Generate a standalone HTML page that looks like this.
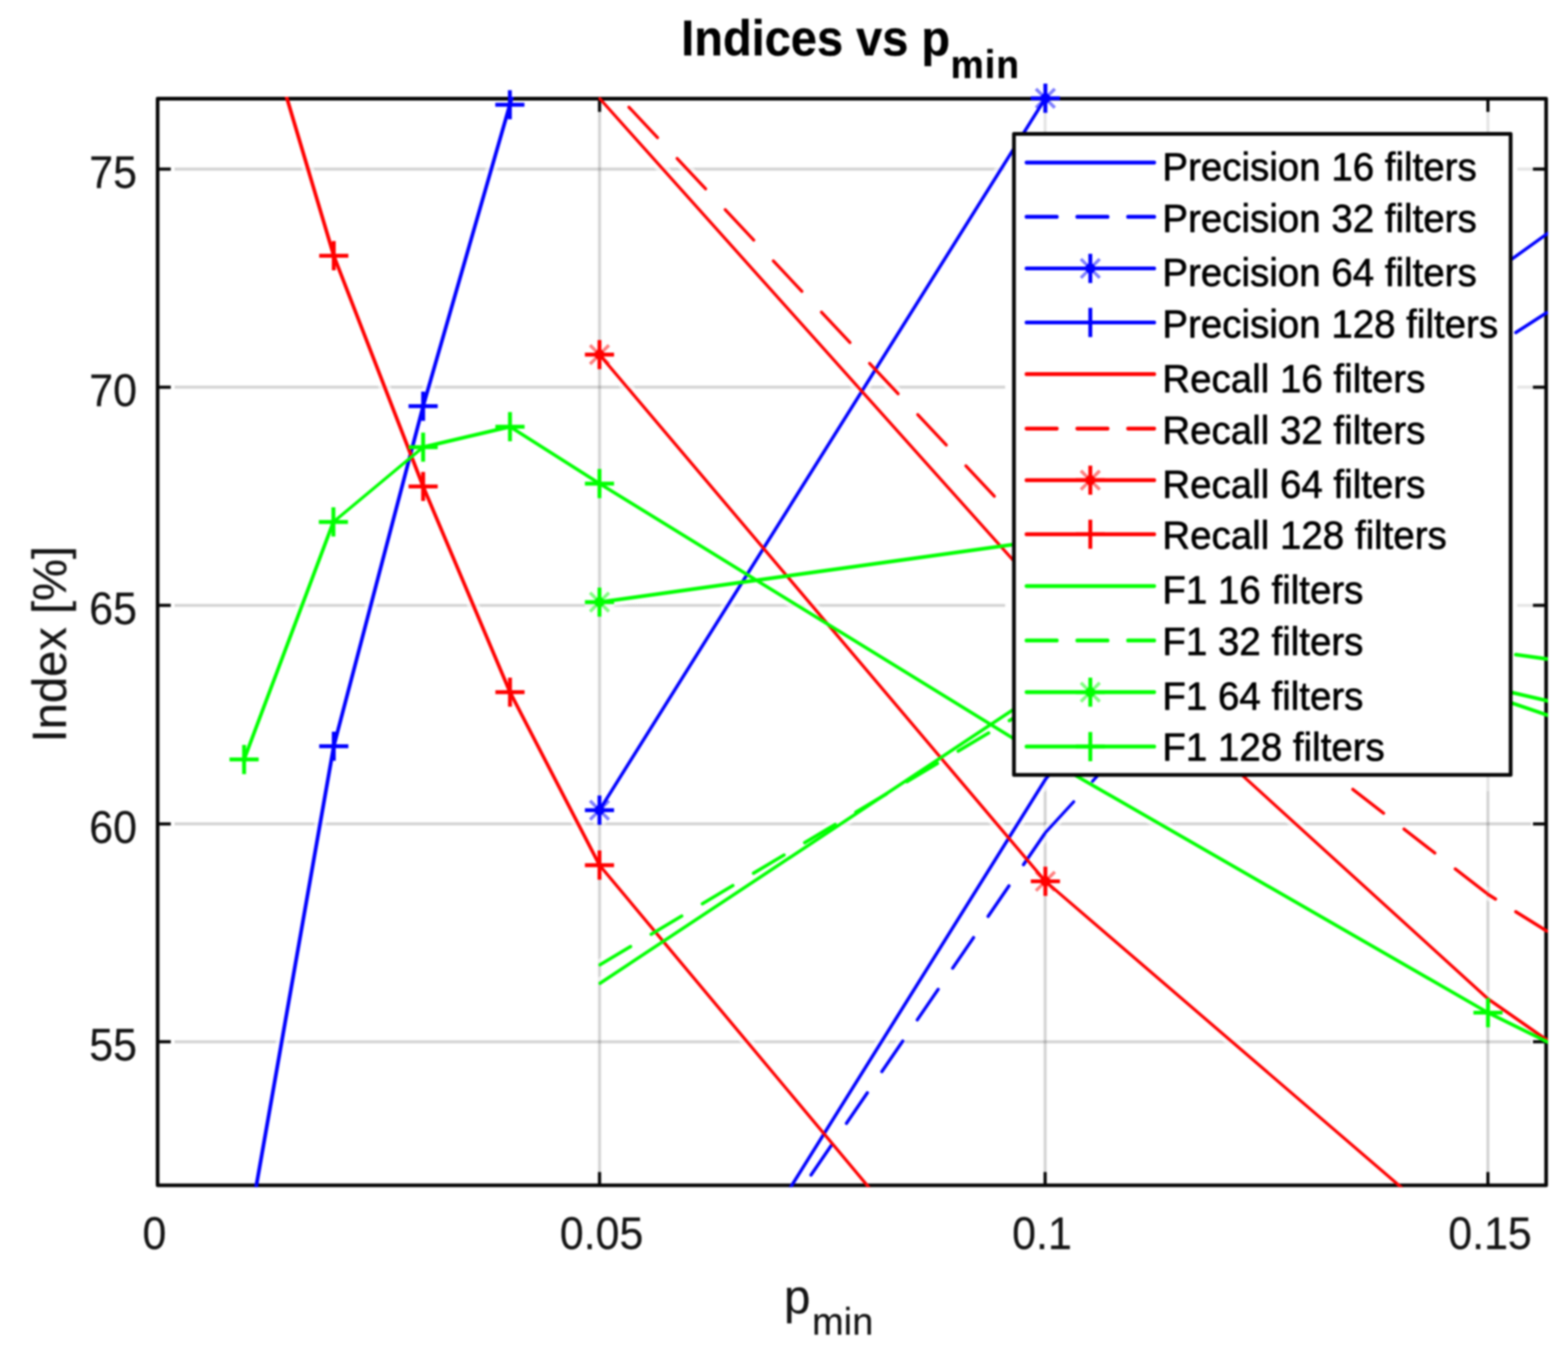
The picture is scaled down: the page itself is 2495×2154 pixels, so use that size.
<!DOCTYPE html>
<html lang="en">
<head>
<meta charset="utf-8">
<title>Indices vs p min</title>
<style>
html,body{margin:0;padding:0;background:#ffffff;}
body{width:2495px;height:2154px;overflow:hidden;}
svg{display:block;}
</style>
</head>
<body>
<svg width="2495" height="2154" viewBox="0 0 2495 2154" font-family="'Liberation Sans', sans-serif">
<defs><clipPath id="ax"><rect x="247.8" y="154.0" width="2215.3999999999996" height="1734.6"/></clipPath><clipPath id="axin"><rect x="274.8" y="181.0" width="2161.3999999999996" height="1680.6"/></clipPath><filter id="soft" color-interpolation-filters="sRGB" x="0" y="0" width="2495" height="2154" filterUnits="userSpaceOnUse"><feGaussianBlur stdDeviation="1.45"/></filter></defs>
<rect width="2495" height="2154" fill="#ffffff"/>
<g filter="url(#soft)">
<line x1="954" y1="157" x2="954" y2="1885.6" stroke="#000000" stroke-opacity="0.170" stroke-width="4.8"/>
<line x1="1663" y1="157" x2="1663" y2="213" stroke="#000000" stroke-opacity="0.102" stroke-width="4.8"/>
<line x1="1663" y1="1232.8" x2="1663" y2="1258.8" stroke="#000000" stroke-opacity="0.102" stroke-width="4.8"/>
<line x1="1663" y1="1258.8" x2="1663" y2="1885.6" stroke="#000000" stroke-opacity="0.170" stroke-width="4.8"/>
<line x1="2367.6" y1="157" x2="2367.6" y2="213" stroke="#000000" stroke-opacity="0.102" stroke-width="4.8"/>
<line x1="2367.6" y1="1232.8" x2="2367.6" y2="1258.8" stroke="#000000" stroke-opacity="0.102" stroke-width="4.8"/>
<line x1="2367.6" y1="1258.8" x2="2367.6" y2="1885.6" stroke="#000000" stroke-opacity="0.170" stroke-width="4.8"/>
<line x1="277.8" y1="269" x2="1599.4" y2="269" stroke="#000000" stroke-opacity="0.170" stroke-width="4.8"/>
<line x1="2414.2" y1="269" x2="2460.2" y2="269" stroke="#000000" stroke-opacity="0.102" stroke-width="4.8"/>
<line x1="277.8" y1="615.9" x2="1599.4" y2="615.9" stroke="#000000" stroke-opacity="0.170" stroke-width="4.8"/>
<line x1="2414.2" y1="615.9" x2="2460.2" y2="615.9" stroke="#000000" stroke-opacity="0.102" stroke-width="4.8"/>
<line x1="277.8" y1="963.1" x2="1599.4" y2="963.1" stroke="#000000" stroke-opacity="0.170" stroke-width="4.8"/>
<line x1="2414.2" y1="963.1" x2="2460.2" y2="963.1" stroke="#000000" stroke-opacity="0.102" stroke-width="4.8"/>
<line x1="277.8" y1="1310.7" x2="2436.2" y2="1310.7" stroke="#000000" stroke-opacity="0.170" stroke-width="4.8"/>
<line x1="277.8" y1="1657.3" x2="2436.2" y2="1657.3" stroke="#000000" stroke-opacity="0.170" stroke-width="4.8"/>
<g clip-path="url(#axin)" stroke="#ffffff" stroke-opacity="0.6" stroke-linecap="butt" fill="none"><path d="M954.5 2374.4L1663.6 1239.7" stroke-width="18.3"/><path d="M1663.6 1239.7L2367.8 439.3" stroke-width="17.9"/><path d="M2367.8 439.3L2460.3 373" stroke-width="18.2"/><path d="M2460.3 373L2560 301.5" stroke-width="18.2"/><path d="M1661.8 1327L1628.6 1375.5" stroke-width="18.2"/><path d="M1605.5 1409.3L1572.3 1457.8" stroke-width="18.2"/><path d="M1549.1 1491.6L1515.9 1540.1" stroke-width="18.2"/><path d="M1492.8 1573.9L1459.6 1622.4" stroke-width="18.2"/><path d="M1436.4 1656.2L1403.2 1704.7" stroke-width="18.2"/><path d="M1380.1 1738.5L1346.9 1787" stroke-width="18.2"/><path d="M1323.7 1820.8L1290.5 1869.3" stroke-width="18.2"/><path d="M1267.4 1903.1L1234.2 1951.6" stroke-width="18.2"/><path d="M1708.6 1275.4L1663.6 1324.4" stroke-width="17.8"/><path d="M1783.4 1193.9L1738.4 1242.9" stroke-width="17.8"/><path d="M1858.2 1112.4L1813.3 1161.4" stroke-width="17.8"/><path d="M1933.1 1030.9L1888.1 1079.9" stroke-width="17.8"/><path d="M2007.9 949.4L1962.9 998.4" stroke-width="17.8"/><path d="M2082.7 867.9L2037.7 916.9" stroke-width="17.8"/><path d="M2157.5 786.4L2112.6 835.4" stroke-width="17.8"/><path d="M2232.4 704.9L2187.4 753.9" stroke-width="17.8"/><path d="M2307.2 623.4L2262.2 672.4" stroke-width="17.8"/><path d="M2367.8 557.4L2337 590.9" stroke-width="17.8"/><path d="M2367.8 557.4L2379.6 549.8" stroke-width="18.3"/><path d="M2412 529L2461 497.6" stroke-width="18.3"/><path d="M2493.5 476.7L2542.5 445.2" stroke-width="18.3"/><path d="M953.9 1288.8L1663.4 156.3" stroke-width="18.3"/><path d="M1663.4 156.3L2367.8 -400" stroke-width="18.0"/><path d="M391.6 1978.7L531.1 1187.1" stroke-width="18.9"/><path d="M531.1 1187.1L673.3 646.2" stroke-width="18.9"/><path d="M673.3 646.2L811.3 166.6" stroke-width="18.8"/><path d="M811.3 166.6L954 -320" stroke-width="18.8"/><path d="M954.5 157L1663.6 948.7" stroke-width="17.9"/><path d="M1663.6 948.7L2367.8 1589.1" stroke-width="17.8"/><path d="M2367.8 1589.1L2460.3 1653.7" stroke-width="18.2"/><path d="M2460.3 1653.7L2560 1723.3" stroke-width="18.2"/><path d="M954.5 121.3L969.7 137.5" stroke-width="17.8"/><path d="M1000.7 170.5L1046.3 219" stroke-width="17.8"/><path d="M1077.3 252L1122.9 300.5" stroke-width="17.8"/><path d="M1153.9 333.5L1199.4 382" stroke-width="17.8"/><path d="M1230.5 415L1276 463.5" stroke-width="17.8"/><path d="M1307 496.5L1352.6 545" stroke-width="17.8"/><path d="M1383.6 578L1429.2 626.5" stroke-width="17.8"/><path d="M1460.2 659.5L1505.8 708" stroke-width="17.8"/><path d="M1536.8 741L1582.3 789.5" stroke-width="17.8"/><path d="M1613.3 822.5L1658.9 871" stroke-width="17.8"/><path d="M1663.6 876L1712.6 914" stroke-width="18.1"/><path d="M1745.1 939.3L1794.1 977.3" stroke-width="18.1"/><path d="M1826.6 1002.6L1875.6 1040.6" stroke-width="18.1"/><path d="M1908.1 1065.9L1957.1 1103.9" stroke-width="18.1"/><path d="M1989.6 1129.1L2038.6 1167.2" stroke-width="18.1"/><path d="M2071.1 1192.4L2120.1 1230.5" stroke-width="18.1"/><path d="M2152.6 1255.7L2201.6 1293.7" stroke-width="18.1"/><path d="M2234.1 1319L2283.1 1357" stroke-width="18.1"/><path d="M2315.6 1382.3L2364.6 1420.3" stroke-width="18.1"/><path d="M2367.8 1422.8L2379.6 1430.2" stroke-width="18.3"/><path d="M2412 1450.5L2461 1481.1" stroke-width="18.3"/><path d="M2493.5 1501.5L2542.5 1532.2" stroke-width="18.3"/><path d="M953.9 564.1L1663.4 1402" stroke-width="17.9"/><path d="M1663.4 1402L2367.8 2007.6" stroke-width="17.9"/><path d="M391.6 -62.2L531.1 406.8" stroke-width="18.8"/><path d="M531.1 406.8L673.3 773.9" stroke-width="18.7"/><path d="M673.3 773.9L811.5 1101.1" stroke-width="18.6"/><path d="M811.5 1101.1L953.9 1376.3" stroke-width="18.5"/><path d="M953.9 1376.3L1663.7 2225.2" stroke-width="18.0"/><path d="M954.8 1564.2L1663.6 1094.9" stroke-width="18.3"/><path d="M1663.6 1094.9L2367.8 1105.5" stroke-width="19.0"/><path d="M2367.8 1105.5L2460.3 1137" stroke-width="18.8"/><path d="M2460.3 1137L2560 1171" stroke-width="18.8"/><path d="M954.8 1534.8L1003.3 1505.9" stroke-width="18.4"/><path d="M1036.2 1486.2L1084.7 1457.3" stroke-width="18.4"/><path d="M1117.6 1437.7L1166.1 1408.8" stroke-width="18.4"/><path d="M1199 1389.1L1247.5 1360.2" stroke-width="18.4"/><path d="M1280.4 1340.6L1328.9 1311.6" stroke-width="18.4"/><path d="M1361.8 1292L1410.3 1263.1" stroke-width="18.4"/><path d="M1443.2 1243.5L1491.7 1214.5" stroke-width="18.4"/><path d="M1524.6 1194.9L1573.1 1166" stroke-width="18.4"/><path d="M1606 1146.4L1654.5 1117.4" stroke-width="18.4"/><path d="M1663.6 1112L1712.6 1106.7" stroke-width="19.0"/><path d="M1745.1 1103.1L1794.1 1097.8" stroke-width="19.0"/><path d="M1826.6 1094.2L1875.6 1088.9" stroke-width="19.0"/><path d="M1908.1 1085.4L1957.1 1080" stroke-width="19.0"/><path d="M1989.6 1076.5L2038.6 1071.2" stroke-width="19.0"/><path d="M2071.1 1067.6L2120.1 1062.3" stroke-width="19.0"/><path d="M2152.6 1058.7L2201.6 1053.4" stroke-width="19.0"/><path d="M2234.1 1049.9L2283.1 1044.5" stroke-width="19.0"/><path d="M2315.6 1041L2364.6 1035.6" stroke-width="19.0"/><path d="M2367.8 1035.3L2379.6 1036.9" stroke-width="19.0"/><path d="M2412 1041.4L2461 1048.2" stroke-width="19.0"/><path d="M2493.5 1052.7L2542.5 1059.5" stroke-width="19.0"/><path d="M953.9 957.9L1663.6 859.1" stroke-width="19.0"/><path d="M1663.6 859.1L2367.8 1092.8" stroke-width="18.8"/><path d="M2367.8 1092.8L2460.3 1114.4" stroke-width="18.9"/><path d="M2460.3 1114.4L2560 1137.7" stroke-width="18.9"/><path d="M388.4 1208.2L530.5 830.3" stroke-width="18.7"/><path d="M530.5 830.3L673.3 711.4" stroke-width="18.0"/><path d="M673.3 711.4L811.5 678.8" stroke-width="18.9"/><path d="M811.5 678.8L953.9 769.3" stroke-width="18.3"/><path d="M953.9 769.3L1663.6 1206.2" stroke-width="18.3"/><path d="M1663.6 1206.2L2367.7 1611" stroke-width="18.4"/><path d="M2367.7 1611L2460.3 1656.6" stroke-width="18.5"/><path d="M2460.3 1656.6L2560 1705.7" stroke-width="18.5"/><path d="M930.7 1288.8H977.1M953.9 1265.6V1312" stroke-width="19.2"/><path d="M1640.2 156.3H1686.6M1663.4 133.1V179.5" stroke-width="19.2"/><path d="M507.9 1187.1H554.3M531.1 1163.9V1210.3" stroke-width="19.2"/><path d="M650.1 646.2H696.5M673.3 623V669.4" stroke-width="19.2"/><path d="M788.1 166.6H834.5M811.3 143.4V189.8" stroke-width="19.2"/><path d="M930.7 564.1H977.1M953.9 540.9V587.3" stroke-width="19.2"/><path d="M1640.2 1402H1686.6M1663.4 1378.8V1425.2" stroke-width="19.2"/><path d="M507.9 406.8H554.3M531.1 383.6V430" stroke-width="19.2"/><path d="M650.1 773.9H696.5M673.3 750.7V797.1" stroke-width="19.2"/><path d="M788.3 1101.1H834.7M811.5 1077.9V1124.3" stroke-width="19.2"/><path d="M930.7 1376.3H977.1M953.9 1353.1V1399.5" stroke-width="19.2"/><path d="M930.7 957.9H977.1M953.9 934.7V981.1" stroke-width="19.2"/><path d="M365.2 1208.2H411.6M388.4 1185V1231.4" stroke-width="19.2"/><path d="M507.3 830.3H553.7M530.5 807.1V853.5" stroke-width="19.2"/><path d="M650.1 711.4H696.5M673.3 688.2V734.6" stroke-width="19.2"/><path d="M788.3 678.8H834.7M811.5 655.6V702" stroke-width="19.2"/><path d="M930.7 769.3H977.1M953.9 746.1V792.5" stroke-width="19.2"/><path d="M2344.5 1611H2390.9M2367.7 1587.8V1634.2" stroke-width="19.2"/></g>
<rect x="250.8" y="157.0" width="2209.3999999999996" height="1728.6" fill="none" stroke="#050505" stroke-width="5.8" stroke-linejoin="round"/>
<path d="M954.0 1885.6v-21M954.0 157.0v21" stroke="#050505" stroke-width="5.0"/>
<path d="M1663.0 1885.6v-21M1663.0 157.0v21" stroke="#050505" stroke-width="5.0"/>
<path d="M2367.6 1885.6v-21M2367.6 157.0v21" stroke="#050505" stroke-width="5.0"/>
<path d="M250.8 269.0h21M2460.2 269.0h-21" stroke="#050505" stroke-width="5.0"/>
<path d="M250.8 615.9h21M2460.2 615.9h-21" stroke="#050505" stroke-width="5.0"/>
<path d="M250.8 963.1h21M2460.2 963.1h-21" stroke="#050505" stroke-width="5.0"/>
<path d="M250.8 1310.7h21M2460.2 1310.7h-21" stroke="#050505" stroke-width="5.0"/>
<path d="M250.8 1657.3h21M2460.2 1657.3h-21" stroke="#050505" stroke-width="5.0"/>
<g clip-path="url(#ax)" stroke-linecap="round" fill="none">
<path d="M954.5 2374.4L1663.6 1239.7" stroke="#0000ff" stroke-width="5.32"/>
<path d="M1663.6 1239.7L2367.8 439.3" stroke="#0000ff" stroke-width="4.88"/>
<path d="M2367.8 439.3L2460.3 373" stroke="#0000ff" stroke-width="5.16"/>
<path d="M2460.3 373L2560 301.5" stroke="#0000ff" stroke-width="5.16"/>
<path d="M1661.8 1327L1628.6 1375.5" stroke="#0000ff" stroke-width="5.21"/>
<path d="M1605.5 1409.3L1572.3 1457.8" stroke="#0000ff" stroke-width="5.21"/>
<path d="M1549.1 1491.6L1515.9 1540.1" stroke="#0000ff" stroke-width="5.21"/>
<path d="M1492.8 1573.9L1459.6 1622.4" stroke="#0000ff" stroke-width="5.21"/>
<path d="M1436.4 1656.2L1403.2 1704.7" stroke="#0000ff" stroke-width="5.21"/>
<path d="M1380.1 1738.5L1346.9 1787" stroke="#0000ff" stroke-width="5.21"/>
<path d="M1323.7 1820.8L1290.5 1869.3" stroke="#0000ff" stroke-width="5.21"/>
<path d="M1267.4 1903.1L1234.2 1951.6" stroke="#0000ff" stroke-width="5.21"/>
<path d="M1708.6 1275.4L1663.6 1324.4" stroke="#0000ff" stroke-width="4.81"/>
<path d="M1783.4 1193.9L1738.4 1242.9" stroke="#0000ff" stroke-width="4.81"/>
<path d="M1858.2 1112.4L1813.3 1161.4" stroke="#0000ff" stroke-width="4.81"/>
<path d="M1933.1 1030.9L1888.1 1079.9" stroke="#0000ff" stroke-width="4.81"/>
<path d="M2007.9 949.4L1962.9 998.4" stroke="#0000ff" stroke-width="4.81"/>
<path d="M2082.7 867.9L2037.7 916.9" stroke="#0000ff" stroke-width="4.81"/>
<path d="M2157.5 786.4L2112.6 835.4" stroke="#0000ff" stroke-width="4.81"/>
<path d="M2232.4 704.9L2187.4 753.9" stroke="#0000ff" stroke-width="4.81"/>
<path d="M2307.2 623.4L2262.2 672.4" stroke="#0000ff" stroke-width="4.81"/>
<path d="M2367.8 557.4L2337 590.9" stroke="#0000ff" stroke-width="4.81"/>
<path d="M2367.8 557.4L2379.6 549.8" stroke="#0000ff" stroke-width="5.29"/>
<path d="M2412 529L2461 497.6" stroke="#0000ff" stroke-width="5.29"/>
<path d="M2493.5 476.7L2542.5 445.2" stroke="#0000ff" stroke-width="5.29"/>
<path d="M953.9 1288.8L1663.4 156.3" stroke="#0000ff" stroke-width="5.31"/>
<path d="M1663.4 156.3L2367.8 -400" stroke="#0000ff" stroke-width="5.03"/>
<path d="M391.6 1978.7L531.1 1187.1" stroke="#0000ff" stroke-width="5.93"/>
<path d="M531.1 1187.1L673.3 646.2" stroke="#0000ff" stroke-width="5.85"/>
<path d="M673.3 646.2L811.3 166.6" stroke="#0000ff" stroke-width="5.82"/>
<path d="M811.3 166.6L954 -320" stroke="#0000ff" stroke-width="5.82"/>
<path d="M954.5 157L1663.6 948.7" stroke="#ff0000" stroke-width="4.85"/>
<path d="M1663.6 948.7L2367.8 1589.1" stroke="#ff0000" stroke-width="4.83"/>
<path d="M2367.8 1589.1L2460.3 1653.7" stroke="#ff0000" stroke-width="5.19"/>
<path d="M2460.3 1653.7L2560 1723.3" stroke="#ff0000" stroke-width="5.19"/>
<path d="M954.5 121.3L969.7 137.5" stroke="#ff0000" stroke-width="4.78"/>
<path d="M1000.7 170.5L1046.3 219" stroke="#ff0000" stroke-width="4.78"/>
<path d="M1077.3 252L1122.9 300.5" stroke="#ff0000" stroke-width="4.78"/>
<path d="M1153.9 333.5L1199.4 382" stroke="#ff0000" stroke-width="4.78"/>
<path d="M1230.5 415L1276 463.5" stroke="#ff0000" stroke-width="4.78"/>
<path d="M1307 496.5L1352.6 545" stroke="#ff0000" stroke-width="4.78"/>
<path d="M1383.6 578L1429.2 626.5" stroke="#ff0000" stroke-width="4.78"/>
<path d="M1460.2 659.5L1505.8 708" stroke="#ff0000" stroke-width="4.78"/>
<path d="M1536.8 741L1582.3 789.5" stroke="#ff0000" stroke-width="4.78"/>
<path d="M1613.3 822.5L1658.9 871" stroke="#ff0000" stroke-width="4.78"/>
<path d="M1663.6 876L1712.6 914" stroke="#ff0000" stroke-width="5.05"/>
<path d="M1745.1 939.3L1794.1 977.3" stroke="#ff0000" stroke-width="5.05"/>
<path d="M1826.6 1002.6L1875.6 1040.6" stroke="#ff0000" stroke-width="5.05"/>
<path d="M1908.1 1065.9L1957.1 1103.9" stroke="#ff0000" stroke-width="5.05"/>
<path d="M1989.6 1129.1L2038.6 1167.2" stroke="#ff0000" stroke-width="5.05"/>
<path d="M2071.1 1192.4L2120.1 1230.5" stroke="#ff0000" stroke-width="5.05"/>
<path d="M2152.6 1255.7L2201.6 1293.7" stroke="#ff0000" stroke-width="5.05"/>
<path d="M2234.1 1319L2283.1 1357" stroke="#ff0000" stroke-width="5.05"/>
<path d="M2315.6 1382.3L2364.6 1420.3" stroke="#ff0000" stroke-width="5.05"/>
<path d="M2367.8 1422.8L2379.6 1430.2" stroke="#ff0000" stroke-width="5.31"/>
<path d="M2412 1450.5L2461 1481.1" stroke="#ff0000" stroke-width="5.31"/>
<path d="M2493.5 1501.5L2542.5 1532.2" stroke="#ff0000" stroke-width="5.31"/>
<path d="M953.9 564.1L1663.4 1402" stroke="#ff0000" stroke-width="4.93"/>
<path d="M1663.4 1402L2367.8 2007.6" stroke="#ff0000" stroke-width="4.91"/>
<path d="M391.6 -62.2L531.1 406.8" stroke="#ff0000" stroke-width="5.81"/>
<path d="M531.1 406.8L673.3 773.9" stroke="#ff0000" stroke-width="5.70"/>
<path d="M673.3 773.9L811.5 1101.1" stroke="#ff0000" stroke-width="5.65"/>
<path d="M811.5 1101.1L953.9 1376.3" stroke="#ff0000" stroke-width="5.50"/>
<path d="M953.9 1376.3L1663.7 2225.2" stroke="#ff0000" stroke-width="4.95"/>
<path d="M954.8 1564.2L1663.6 1094.9" stroke="#00ff00" stroke-width="5.25"/>
<path d="M1663.6 1094.9L2367.8 1105.5" stroke="#00ff00" stroke-width="6.00"/>
<path d="M2367.8 1105.5L2460.3 1137" stroke="#00ff00" stroke-width="5.76"/>
<path d="M2460.3 1137L2560 1171" stroke="#00ff00" stroke-width="5.76"/>
<path d="M954.8 1534.8L1003.3 1505.9" stroke="#00ff00" stroke-width="5.36"/>
<path d="M1036.2 1486.2L1084.7 1457.3" stroke="#00ff00" stroke-width="5.36"/>
<path d="M1117.6 1437.7L1166.1 1408.8" stroke="#00ff00" stroke-width="5.36"/>
<path d="M1199 1389.1L1247.5 1360.2" stroke="#00ff00" stroke-width="5.36"/>
<path d="M1280.4 1340.6L1328.9 1311.6" stroke="#00ff00" stroke-width="5.36"/>
<path d="M1361.8 1292L1410.3 1263.1" stroke="#00ff00" stroke-width="5.36"/>
<path d="M1443.2 1243.5L1491.7 1214.5" stroke="#00ff00" stroke-width="5.36"/>
<path d="M1524.6 1194.9L1573.1 1166" stroke="#00ff00" stroke-width="5.36"/>
<path d="M1606 1146.4L1654.5 1117.4" stroke="#00ff00" stroke-width="5.36"/>
<path d="M1663.6 1112L1712.6 1106.7" stroke="#00ff00" stroke-width="5.97"/>
<path d="M1745.1 1103.1L1794.1 1097.8" stroke="#00ff00" stroke-width="5.97"/>
<path d="M1826.6 1094.2L1875.6 1088.9" stroke="#00ff00" stroke-width="5.97"/>
<path d="M1908.1 1085.4L1957.1 1080" stroke="#00ff00" stroke-width="5.97"/>
<path d="M1989.6 1076.5L2038.6 1071.2" stroke="#00ff00" stroke-width="5.97"/>
<path d="M2071.1 1067.6L2120.1 1062.3" stroke="#00ff00" stroke-width="5.97"/>
<path d="M2152.6 1058.7L2201.6 1053.4" stroke="#00ff00" stroke-width="5.97"/>
<path d="M2234.1 1049.9L2283.1 1044.5" stroke="#00ff00" stroke-width="5.97"/>
<path d="M2315.6 1041L2364.6 1035.6" stroke="#00ff00" stroke-width="5.97"/>
<path d="M2367.8 1035.3L2379.6 1036.9" stroke="#00ff00" stroke-width="5.96"/>
<path d="M2412 1041.4L2461 1048.2" stroke="#00ff00" stroke-width="5.96"/>
<path d="M2493.5 1052.7L2542.5 1059.5" stroke="#00ff00" stroke-width="5.96"/>
<path d="M953.9 957.9L1663.6 859.1" stroke="#00ff00" stroke-width="5.96"/>
<path d="M1663.6 859.1L2367.8 1092.8" stroke="#00ff00" stroke-width="5.77"/>
<path d="M2367.8 1092.8L2460.3 1114.4" stroke="#00ff00" stroke-width="5.88"/>
<path d="M2460.3 1114.4L2560 1137.7" stroke="#00ff00" stroke-width="5.88"/>
<path d="M388.4 1208.2L530.5 830.3" stroke="#00ff00" stroke-width="5.71"/>
<path d="M530.5 830.3L673.3 711.4" stroke="#00ff00" stroke-width="4.96"/>
<path d="M673.3 711.4L811.5 678.8" stroke="#00ff00" stroke-width="5.88"/>
<path d="M811.5 678.8L953.9 769.3" stroke="#00ff00" stroke-width="5.30"/>
<path d="M953.9 769.3L1663.6 1206.2" stroke="#00ff00" stroke-width="5.33"/>
<path d="M1663.6 1206.2L2367.7 1611" stroke="#00ff00" stroke-width="5.40"/>
<path d="M2367.7 1611L2460.3 1656.6" stroke="#00ff00" stroke-width="5.54"/>
<path d="M2460.3 1656.6L2560 1705.7" stroke="#00ff00" stroke-width="5.54"/>
</g>
<path d="M930.7 1288.8H977.1M953.9 1265.6V1312" stroke="#0000ff" stroke-width="6.2" fill="none"/>
<path d="M938.9 1273.8L968.9 1303.8M938.9 1303.8L968.9 1273.8" stroke="#0000ff" stroke-width="5.3" stroke-opacity="0.5" fill="none"/>
<circle cx="953.9" cy="1288.8" r="8" fill="#0000ff"/>
<path d="M1640.2 156.3H1686.6M1663.4 133.1V179.5" stroke="#0000ff" stroke-width="6.2" fill="none"/>
<path d="M1648.4 141.3L1678.4 171.3M1648.4 171.3L1678.4 141.3" stroke="#0000ff" stroke-width="5.3" stroke-opacity="0.5" fill="none"/>
<circle cx="1663.4" cy="156.3" r="8" fill="#0000ff"/>
<path d="M507.9 1187.1H554.3M531.1 1163.9V1210.3" stroke="#0000ff" stroke-width="6.2" fill="none"/>
<path d="M650.1 646.2H696.5M673.3 623V669.4" stroke="#0000ff" stroke-width="6.2" fill="none"/>
<path d="M788.1 166.6H834.5M811.3 143.4V189.8" stroke="#0000ff" stroke-width="6.2" fill="none"/>
<path d="M930.7 564.1H977.1M953.9 540.9V587.3" stroke="#ff0000" stroke-width="6.2" fill="none"/>
<path d="M938.9 549.1L968.9 579.1M938.9 579.1L968.9 549.1" stroke="#ff0000" stroke-width="5.3" stroke-opacity="0.5" fill="none"/>
<circle cx="953.9" cy="564.1" r="8" fill="#ff0000"/>
<path d="M1640.2 1402H1686.6M1663.4 1378.8V1425.2" stroke="#ff0000" stroke-width="6.2" fill="none"/>
<path d="M1648.4 1387L1678.4 1417M1648.4 1417L1678.4 1387" stroke="#ff0000" stroke-width="5.3" stroke-opacity="0.5" fill="none"/>
<circle cx="1663.4" cy="1402" r="8" fill="#ff0000"/>
<path d="M507.9 406.8H554.3M531.1 383.6V430" stroke="#ff0000" stroke-width="6.2" fill="none"/>
<path d="M650.1 773.9H696.5M673.3 750.7V797.1" stroke="#ff0000" stroke-width="6.2" fill="none"/>
<path d="M788.3 1101.1H834.7M811.5 1077.9V1124.3" stroke="#ff0000" stroke-width="6.2" fill="none"/>
<path d="M930.7 1376.3H977.1M953.9 1353.1V1399.5" stroke="#ff0000" stroke-width="6.2" fill="none"/>
<path d="M930.7 957.9H977.1M953.9 934.7V981.1" stroke="#00ff00" stroke-width="6.2" fill="none"/>
<path d="M938.9 942.9L968.9 972.9M938.9 972.9L968.9 942.9" stroke="#00ff00" stroke-width="5.3" stroke-opacity="0.5" fill="none"/>
<circle cx="953.9" cy="957.9" r="8" fill="#00ff00"/>
<path d="M365.2 1208.2H411.6M388.4 1185V1231.4" stroke="#00ff00" stroke-width="6.2" fill="none"/>
<path d="M507.3 830.3H553.7M530.5 807.1V853.5" stroke="#00ff00" stroke-width="6.2" fill="none"/>
<path d="M650.1 711.4H696.5M673.3 688.2V734.6" stroke="#00ff00" stroke-width="6.2" fill="none"/>
<path d="M788.3 678.8H834.7M811.5 655.6V702" stroke="#00ff00" stroke-width="6.2" fill="none"/>
<path d="M930.7 769.3H977.1M953.9 746.1V792.5" stroke="#00ff00" stroke-width="6.2" fill="none"/>
<path d="M2344.5 1611H2390.9M2367.7 1587.8V1634.2" stroke="#00ff00" stroke-width="6.2" fill="none"/>
<rect x="1613.4" y="213.0" width="790.2999999999997" height="1019.8" fill="#ffffff" stroke="#050505" stroke-width="6.0" stroke-linejoin="round"/>
<path d="M1633.5 258.6H1836.5" stroke="#0000ff" stroke-width="6.2" stroke-linecap="round"/>
<text transform="translate(1849.6 286.6) scale(0.9720 1)" font-size="63" fill="#000000" stroke="#000000" stroke-width="1.0" stroke-linejoin="round">Precision 16 filters</text>
<path d="M1633.5 344.9H1681.5" stroke="#0000ff" stroke-width="6.2" stroke-linecap="round"/>
<path d="M1714.3 344.9H1762.3" stroke="#0000ff" stroke-width="6.2" stroke-linecap="round"/>
<path d="M1795.1 344.9H1836.5" stroke="#0000ff" stroke-width="6.2" stroke-linecap="round"/>
<text transform="translate(1849.6 368.6) scale(0.9720 1)" font-size="63" fill="#000000" stroke="#000000" stroke-width="1.0" stroke-linejoin="round">Precision 32 filters</text>
<path d="M1633.5 427H1836.5" stroke="#0000ff" stroke-width="6.2" stroke-linecap="round"/>
<path d="M1711.7 427H1758.1M1734.9 403.8V450.2" stroke="#0000ff" stroke-width="6.2" fill="none"/>
<path d="M1719.9 412L1749.9 442M1719.9 442L1749.9 412" stroke="#0000ff" stroke-width="5.3" stroke-opacity="0.5" fill="none"/>
<circle cx="1734.9" cy="427" r="8" fill="#0000ff"/>
<text transform="translate(1849.6 454.6) scale(0.9720 1)" font-size="63" fill="#000000" stroke="#000000" stroke-width="1.0" stroke-linejoin="round">Precision 64 filters</text>
<path d="M1633.5 513H1836.5" stroke="#0000ff" stroke-width="6.2" stroke-linecap="round"/>
<path d="M1711.7 513H1758.1M1734.9 489.8V536.2" stroke="#0000ff" stroke-width="6.2" fill="none"/>
<text transform="translate(1849.6 537) scale(0.9720 1)" font-size="63" fill="#000000" stroke="#000000" stroke-width="1.0" stroke-linejoin="round">Precision 128 filters</text>
<path d="M1633.5 595.2H1836.5" stroke="#ff0000" stroke-width="6.2" stroke-linecap="round"/>
<text transform="translate(1849.6 623.5) scale(0.9720 1)" font-size="63" fill="#000000" stroke="#000000" stroke-width="1.0" stroke-linejoin="round">Recall 16 filters</text>
<path d="M1633.5 681.8H1681.5" stroke="#ff0000" stroke-width="6.2" stroke-linecap="round"/>
<path d="M1714.3 681.8H1762.3" stroke="#ff0000" stroke-width="6.2" stroke-linecap="round"/>
<path d="M1795.1 681.8H1836.5" stroke="#ff0000" stroke-width="6.2" stroke-linecap="round"/>
<text transform="translate(1849.6 705.9) scale(0.9720 1)" font-size="63" fill="#000000" stroke="#000000" stroke-width="1.0" stroke-linejoin="round">Recall 32 filters</text>
<path d="M1633.5 763.9H1836.5" stroke="#ff0000" stroke-width="6.2" stroke-linecap="round"/>
<path d="M1711.7 763.9H1758.1M1734.9 740.7V787.1" stroke="#ff0000" stroke-width="6.2" fill="none"/>
<path d="M1719.9 748.9L1749.9 778.9M1719.9 778.9L1749.9 748.9" stroke="#ff0000" stroke-width="5.3" stroke-opacity="0.5" fill="none"/>
<circle cx="1734.9" cy="763.9" r="8" fill="#ff0000"/>
<text transform="translate(1849.6 791.5) scale(0.9720 1)" font-size="63" fill="#000000" stroke="#000000" stroke-width="1.0" stroke-linejoin="round">Recall 64 filters</text>
<path d="M1633.5 849.9H1836.5" stroke="#ff0000" stroke-width="6.2" stroke-linecap="round"/>
<path d="M1711.7 849.9H1758.1M1734.9 826.7V873.1" stroke="#ff0000" stroke-width="6.2" fill="none"/>
<text transform="translate(1849.6 873.3) scale(0.9720 1)" font-size="63" fill="#000000" stroke="#000000" stroke-width="1.0" stroke-linejoin="round">Recall 128 filters</text>
<path d="M1633.5 932.3H1836.5" stroke="#00ff00" stroke-width="6.2" stroke-linecap="round"/>
<text transform="translate(1849.6 959.9) scale(0.9720 1)" font-size="63" fill="#000000" stroke="#000000" stroke-width="1.0" stroke-linejoin="round">F1 16 filters</text>
<path d="M1633.5 1018.9H1681.5" stroke="#00ff00" stroke-width="6.2" stroke-linecap="round"/>
<path d="M1714.3 1018.9H1762.3" stroke="#00ff00" stroke-width="6.2" stroke-linecap="round"/>
<path d="M1795.1 1018.9H1836.5" stroke="#00ff00" stroke-width="6.2" stroke-linecap="round"/>
<text transform="translate(1849.6 1042) scale(0.9720 1)" font-size="63" fill="#000000" stroke="#000000" stroke-width="1.0" stroke-linejoin="round">F1 32 filters</text>
<path d="M1633.5 1101.1H1836.5" stroke="#00ff00" stroke-width="6.2" stroke-linecap="round"/>
<path d="M1711.7 1101.1H1758.1M1734.9 1077.9V1124.3" stroke="#00ff00" stroke-width="6.2" fill="none"/>
<path d="M1719.9 1086.1L1749.9 1116.1M1719.9 1116.1L1749.9 1086.1" stroke="#00ff00" stroke-width="5.3" stroke-opacity="0.5" fill="none"/>
<circle cx="1734.9" cy="1101.1" r="8" fill="#00ff00"/>
<text transform="translate(1849.6 1128.8) scale(0.9720 1)" font-size="63" fill="#000000" stroke="#000000" stroke-width="1.0" stroke-linejoin="round">F1 64 filters</text>
<path d="M1633.5 1187.7H1836.5" stroke="#00ff00" stroke-width="6.2" stroke-linecap="round"/>
<path d="M1711.7 1187.7H1758.1M1734.9 1164.5V1210.9" stroke="#00ff00" stroke-width="6.2" fill="none"/>
<text transform="translate(1849.6 1210.3) scale(0.9720 1)" font-size="63" fill="#000000" stroke="#000000" stroke-width="1.0" stroke-linejoin="round">F1 128 filters</text>
<text transform="translate(218 298.9) scale(0.9550 1)" font-size="71.5" text-anchor="end" fill="#141414" stroke="#141414" stroke-width="0.3" stroke-linejoin="round">75</text>
<text transform="translate(218 645.8) scale(0.9550 1)" font-size="71.5" text-anchor="end" fill="#141414" stroke="#141414" stroke-width="0.3" stroke-linejoin="round">70</text>
<text transform="translate(218 993) scale(0.9550 1)" font-size="71.5" text-anchor="end" fill="#141414" stroke="#141414" stroke-width="0.3" stroke-linejoin="round">65</text>
<text transform="translate(218 1340.6) scale(0.9550 1)" font-size="71.5" text-anchor="end" fill="#141414" stroke="#141414" stroke-width="0.3" stroke-linejoin="round">60</text>
<text transform="translate(218 1687.2) scale(0.9550 1)" font-size="71.5" text-anchor="end" fill="#141414" stroke="#141414" stroke-width="0.3" stroke-linejoin="round">55</text>
<text transform="translate(245.8 1987) scale(0.9550 1)" font-size="71.5" text-anchor="middle" fill="#141414" stroke="#141414" stroke-width="0.3" stroke-linejoin="round">0</text>
<text transform="translate(957.2 1987) scale(0.9550 1)" font-size="71.5" text-anchor="middle" fill="#141414" stroke="#141414" stroke-width="0.3" stroke-linejoin="round">0.05</text>
<text transform="translate(1658 1987) scale(0.9550 1)" font-size="71.5" text-anchor="middle" fill="#141414" stroke="#141414" stroke-width="0.3" stroke-linejoin="round">0.1</text>
<text transform="translate(2370.9 1987) scale(0.9550 1)" font-size="71.5" text-anchor="middle" fill="#141414" stroke="#141414" stroke-width="0.3" stroke-linejoin="round">0.15</text>
<text transform="translate(104.8 1181) rotate(-90) scale(0.9800 1)" font-size="76.5" fill="#141414" stroke="#141414" stroke-width="0.4" stroke-linejoin="round">Index [%]</text>
<text transform="translate(1247.6 2088.6)" font-size="75.5" fill="#141414" stroke="#141414" stroke-width="0.3" stroke-linejoin="round">p<tspan font-size="60.5" dx="2.5" dy="34.4">min</tspan></text>
<text transform="translate(1084 88) scale(0.9400 1)" font-size="79.5" font-weight="bold" fill="#000000" stroke="#000000" stroke-width="0.5" stroke-linejoin="round">Indices vs p<tspan font-size="63" dx="1" dy="36.3" letter-spacing="1.8">min</tspan></text>
</g>
</svg>
</body>
</html>
